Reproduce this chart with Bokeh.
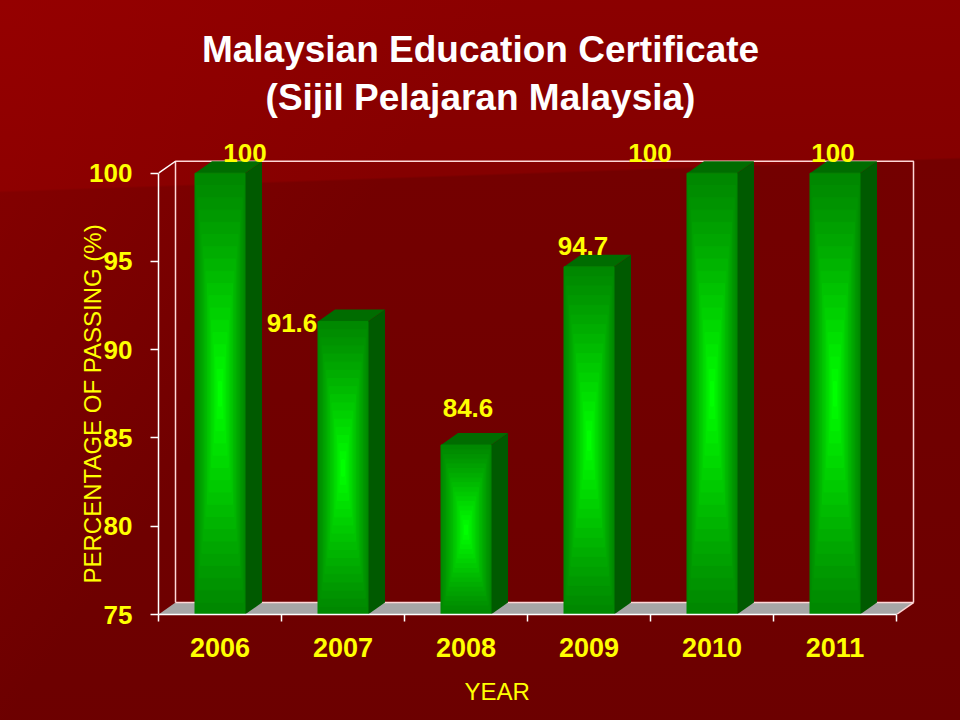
import math

from bokeh.core.properties import value
from bokeh.embed import file_html
from bokeh.models import ColumnDataSource, FixedTicker, Label, LinearAxis, Range1d, Title
from bokeh.plotting import figure
from bokeh.resources import INLINE

years = ["2006", "2007", "2008", "2009", "2010", "2011"]
passing = [100, 91.6, 84.6, 94.7, 100, 100]
value_labels = ["100", "91.6", "84.6", "94.7", "100", "100"]
y_ticks = [75, 80, 85, 90, 95, 100]
title_lines = ["Malaysian Education Certificate", "(Sijil Pelajaran Malaysia)"]
y_title = "PERCENTAGE OF PASSING (%)"
x_title = "YEAR"

# nudges (px) for the value labels, as the slide placed them
label_dx = [25, -51, 2, -6, -62, -2]
label_dy = [-20, 2, -37, -21, -20, -20]

W, H = 960, 720
LEFT, BOTTOM = 158, 105
XPX = 123.0  # px per year slot
YPX = 17.68  # px per percent
Y0, YTOP = y_ticks[0], y_ticks[-1]
DX = 17 / XPX  # 3d depth
DY = 12 / YPX
BAR_W = 50 / XPX

FONT = "Liberation Sans"
YELLOW = "#ffff00"
WALL = "#ffd6d6"

n = len(years)


def at(px, py):
    # page pixel -> data, only used to place free text
    return (px - LEFT) / XPX, Y0 + (H - BOTTOM - py) / YPX


bg = ("linear-gradient(125deg, rgba(160,0,0,0.45) 0%, rgba(120,0,0,0) 35%), "
      "linear-gradient(178deg, #8c0000 0%, #850000 25.3%, #740000 25.6%, #6c0000 100%)")

p = figure(width=W, height=H,
           x_range=Range1d(0, (W - LEFT) / XPX), y_range=Range1d(Y0, Y0 + (H - BOTTOM) / YPX),
           output_backend="svg", toolbar_location=None,
           x_axis_location=None, y_axis_location=None,
           min_border_left=LEFT, min_border_right=0, min_border_top=0, min_border_bottom=BOTTOM,
           border_fill_color=None, background_fill_color=None, outline_line_color=None,
           styles={"background": bg})
p.grid.visible = False

# floor and back wall
p.patch([0, n, n + DX, DX], [Y0, Y0, Y0 + DY, Y0 + DY], fill_color="#a6a6a6", line_color=None)
p.line([DX, n + DX], [Y0 + DY, Y0 + DY], line_color=WALL, line_width=1.5)
p.line([n, n + DX], [Y0, Y0 + DY], line_color=WALL, line_width=1.5)
p.line([DX, DX, n + DX, n + DX], [Y0 + DY, YTOP + DY, YTOP + DY, Y0 + DY], line_color=WALL, line_width=1.5)
p.line([0, DX], [YTOP, YTOP + DY], line_color="white", line_width=1.5)

# bar sides and tops
side_xs, side_ys, top_xs, top_ys = [], [], [], []
for i, v in enumerate(passing):
    l, r = i + 0.5 - BAR_W / 2, i + 0.5 + BAR_W / 2
    side_xs.append([r, r + DX, r + DX, r])
    side_ys.append([Y0, Y0 + DY, v + DY, v])
    top_xs.append([l, l + DX, r + DX, r])
    top_ys.append([v, v + DY, v + DY, v])
p.patches(side_xs, side_ys, fill_color="#005a00", line_color=None)
p.patches(top_xs, top_ys, fill_color="#006c00", line_color=None)

# front faces: nested boxes fake the centre glow
layers = 18
face = dict(left=[], right=[], bottom=[], top=[], color=[])
for i, v in enumerate(passing):
    xc, yc = i + 0.5, (Y0 + v) / 2
    hw, hh = BAR_W / 2, (v - Y0) / 2
    for k in range(layers):
        s = 1 - k / layers
        t = k / (layers - 1)
        g = int(0x88 + (0xff - 0x88) * t ** 1.1)
        face["left"].append(xc - hw * s)
        face["right"].append(xc + hw * s)
        face["bottom"].append(yc - hh * s)
        face["top"].append(yc + hh * s)
        face["color"].append("#00%02x00" % g)
p.quad(left="left", right="right", bottom="bottom", top="top", color="color",
       source=ColumnDataSource(face))

# value labels
p.text(x=[i + 0.5 for i in range(n)], y=passing, text=value_labels,
       x_offset=label_dx, y_offset=label_dy,
       text_font=value(FONT), text_font_style="bold", text_font_size="26px",
       text_color=YELLOW, text_align="center", text_baseline="middle")

# axes
xaxis = LinearAxis(bounds=(0, n))
xaxis.ticker = FixedTicker(ticks=[i + 0.5 for i in range(n)], minor_ticks=list(range(n + 1)))
xaxis.major_label_overrides = {i + 0.5: y for i, y in enumerate(years)}
xaxis.major_tick_out = 0
xaxis.major_tick_in = 0
xaxis.minor_tick_out = 7
xaxis.minor_tick_in = 0
xaxis.minor_tick_line_color = "white"
xaxis.major_label_standoff = 16
p.add_layout(xaxis, "below")

yaxis = LinearAxis(bounds=(Y0, YTOP))
yaxis.ticker = FixedTicker(ticks=y_ticks)
yaxis.major_tick_out = 8
yaxis.major_tick_in = 0
yaxis.minor_tick_line_color = None
yaxis.major_label_standoff = 18
p.add_layout(yaxis, "left")

for ax in (xaxis, yaxis):
    ax.axis_line_color = "white"
    ax.axis_line_width = 1.5
    ax.major_tick_line_color = "white"
    ax.major_tick_line_width = 1.5
    ax.minor_tick_line_width = 1.5
    ax.major_label_text_font = FONT
    ax.major_label_text_font_style = "bold"
    ax.major_label_text_color = YELLOW
xaxis.major_label_text_font_size = "27px"
yaxis.major_label_text_font_size = "26px"

# axis names as side titles, shifted to where the slide has them
frame_h = H - BOTTOM
p.add_layout(Title(text=x_title, align="left", offset=469 - LEFT - 5,
                   vertical_align="bottom", standoff=32,
                   text_font=FONT, text_font_style="normal", text_font_size="24px",
                   text_color=YELLOW), "below")
p.add_layout(Title(text=y_title, align="left", offset=frame_h - 5 - 579,
                   vertical_align="bottom", standoff=-38,
                   text_font=FONT, text_font_style="normal", text_font_size="24px",
                   text_color=YELLOW), "left")

# titles
for line, py in zip(title_lines, [49, 97]):
    tx, ty = at(480, py)
    p.add_layout(Label(x=tx, y=ty, text=line, text_font=FONT, text_font_style="bold",
                       text_font_size="37px", text_color="white",
                       text_align="center", text_baseline="middle"))

open("out.html", "w").write(file_html(p, INLINE))
